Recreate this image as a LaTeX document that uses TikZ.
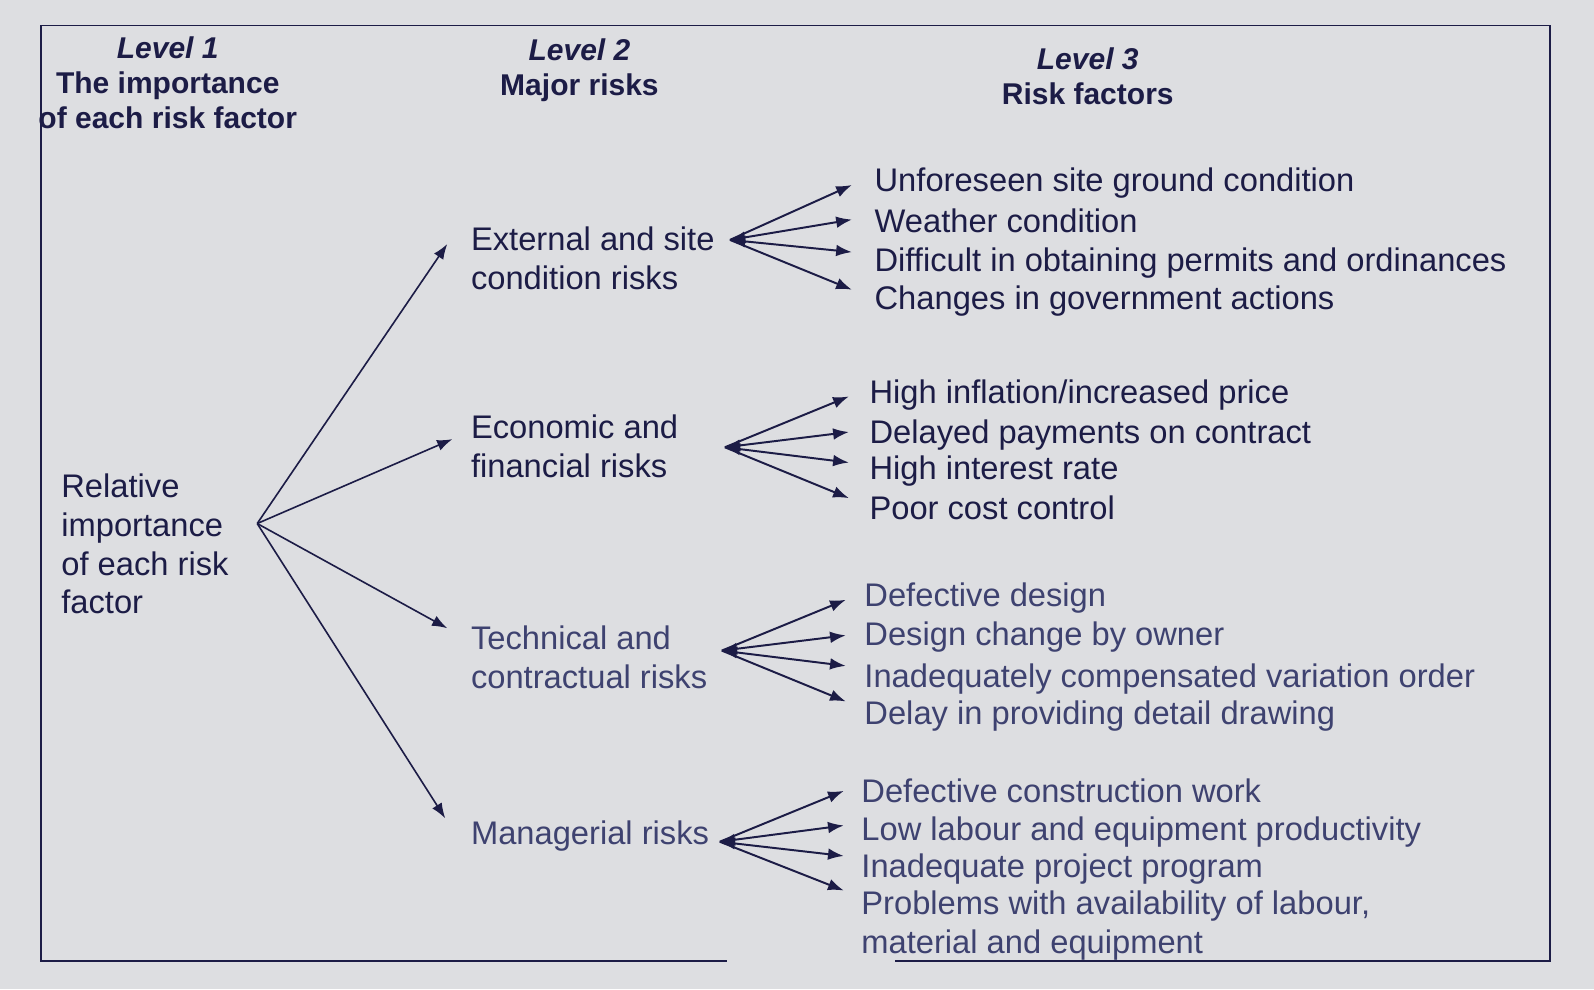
\documentclass[tikz,border=0pt]{standalone}
\usepackage{fontspec}
\setmainfont{Liberation Sans}
\usepackage{tkz-euclide}
\usetikzlibrary{arrows.meta}
\definecolor{ink}{RGB}{28,28,70}
\definecolor{inkb}{RGB}{62,66,112}
\definecolor{paper}{RGB}{221,222,225}

\begin{document}
\begin{tikzpicture}[
  every node/.style={font=\fontsize{18.3}{21.8}\selectfont,text=ink,inner sep=0pt},
  head/.style={font=\fontsize{16.8}{19.8}\selectfont\bfseries,align=center},
  risk/.style={anchor=west,align=left},
  low/.style={text=inkb},
  arr/.style={line width=0.9pt,color=ink,-{Latex[length=3mm,width=2.2mm]}},
  arrf/.style={line width=1.1pt,color=ink,-{Latex[length=3.1mm,width=2.3mm]}},
  arrs/.style={line width=1.1pt,color=ink,{Latex[length=3mm,width=2.4mm]}-{Latex[length=3.1mm,width=2.3mm]}}]

\fill[paper] (0,0.32) rectangle (31.36,19.78);
\useasboundingbox (0,0.32) rectangle (31.36,19.78);

% frame, open under the last risk factor
\draw[ink,line width=1pt] (14.3,0.88) -- (0.8,0.88) -- (0.8,19.28) -- (30.5,19.28) -- (30.5,0.88) -- (17.6,0.88);

% headings
\node[head] (lev1) at (3.3,18.15) {\textit{Level 1}\\The importance\\of each risk factor};
\node[head] (lev2) at (11.4,18.40) {\textit{Level 2}\\Major risks};
\node[head] (lev3) at (21.4,18.28) {\textit{Level 3}\\Risk factors};

\node[risk] (rel) at (1.2,9.08) {Relative\\importance\\of each risk\\factor};

% major risks
\node[risk] (ext) at (9.26,14.70) {External and site\\condition risks};
\node[risk] (eco) at (9.26,11.00) {Economic and\\financial risks};
\node[risk,low] (tec) at (9.26,6.84) {Technical and\\contractual risks};
\node[risk,low] (man) at (9.26,3.34) {Managerial risks};

% risk factors
\node[risk] (a1) at (17.2,16.18) {Unforeseen site ground condition};
\node[risk] (a2) at (17.2,15.44) {Weather condition};
\node[risk] (a3) at (17.2,14.60) {Difficult in obtaining permits and ordinances};
\node[risk] (a4) at (17.2,13.86) {Changes in government actions};

\node[risk] (b1) at (17.1,12.00) {High inflation/increased price};
\node[risk] (b2) at (17.1,11.22) {Delayed payments on contract};
\node[risk] (b3) at (17.1,10.52) {High interest rate};
\node[risk] (b4) at (17.1,9.78) {Poor cost control};

\node[risk,low] (c1) at (17.0,8.02) {Defective design};
\node[risk,low] (c2) at (17.0,7.24) {Design change by owner};
\node[risk,low] (c3) at (17.0,6.42) {Inadequately compensated variation order};
\node[risk,low] (c4) at (17.0,5.70) {Delay in providing detail drawing};

\node[risk,low] (d1) at (16.94,4.22) {Defective construction work};
\node[risk,low] (d2) at (16.94,3.42) {Low labour and equipment productivity};
\node[risk,low] (d3) at (16.94,2.68) {Inadequate project program};
\node[risk,low] (d4) at (16.94,1.58) {Problems with availability of labour,\\material and equipment};

% points of the tree
\tkzDefPoint(5.06,9.48){O}
\tkzDefPoints{8.8/14.98/A,8.9/11.14/B,8.8/7.42/C,8.76/3.68/D}
\tkzDefPoints{14.36/15.06/HA,14.26/10.98/HB,14.2/6.98/HC,14.16/3.22/HD}
\tkzDefPoints{16.76/16.14/A1,16.76/15.46/A2,16.76/14.82/A3,16.76/14.08/A4}
\tkzDefPoints{16.7/11.98/B1,16.7/11.28/B2,16.7/10.68/B3,16.7/9.98/B4}
\tkzDefPoints{16.64/7.98/C1,16.64/7.28/C2,16.64/6.68/C3,16.64/5.98/C4}
\tkzDefPoints{16.6/4.22/D1,16.6/3.54/D2,16.6/2.94/D3,16.6/2.26/D4}

\foreach \p in {A,B,C,D} \draw[arr] (O) -- (\p);

\foreach \h in {A,B,C,D} {
  \draw[arrf] (H\h) -- (\h1);
  \draw[arrs] (H\h) -- (\h2);
  \draw[arrs] (H\h) -- (\h3);
  \draw[arrf] (H\h) -- (\h4);
}

\end{tikzpicture}
\end{document}
